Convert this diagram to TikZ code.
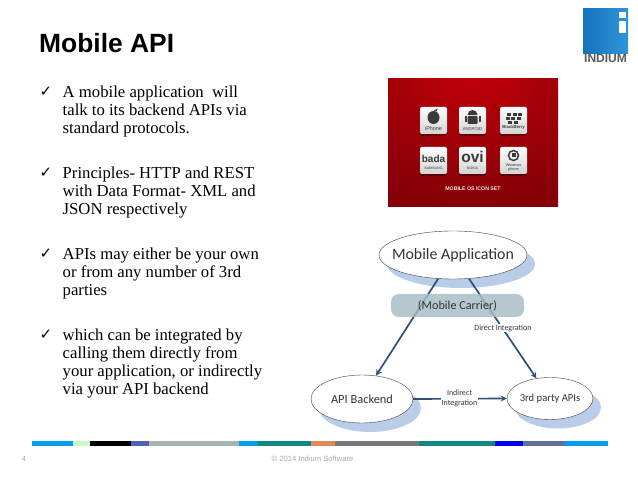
\documentclass[tikz,border=0pt]{standalone}
\usepackage{fontspec}
\setmainfont{Liberation Serif}
\newfontfamily\arialfont{Liberation Sans}
\newfontfamily\calibrifont{Carlito}
\newfontfamily\checkfont{DejaVu Sans}
\usetikzlibrary{shapes.geometric,shadows}

\definecolor{arrowblue}{HTML}{2F4F77}
\definecolor{shadowblue}{HTML}{BACDE8}
\definecolor{carriergrey}{HTML}{A6BCC4}
\definecolor{labelgrey}{HTML}{333333}
\definecolor{footgrey}{HTML}{A8A8A8}
\definecolor{tilegrey}{HTML}{3A3A3A}
\definecolor{logodark}{HTML}{1672BC}
\definecolor{logolight}{HTML}{2E96DC}
\pgfdeclareradialshading{redglow}{\pgfpoint{0bp}{34bp}}{
  rgb(0bp)=(0.80,0.00,0.03);
  rgb(16bp)=(0.68,0.00,0.03);
  rgb(40bp)=(0.54,0.00,0.03);
  rgb(100bp)=(0.38,0.00,0.02)}

\tikzset{
  bullet/.style={anchor=north west,align=left,inner sep=0pt,font=\fontsize{16.7}{18.2}\selectfont},
  tick/.style={inner sep=0pt,font=\checkfont\fontsize{15}{15}\selectfont},
  cloud/.style={ellipse,draw=black!75,thin,fill=white,inner sep=0pt,text=labelgrey,
    general shadow={shadow xshift=8pt,shadow yshift=-9pt,fill=shadowblue}},
  link/.style={->,>=stealth,line width=1.7pt,draw=arrowblue},
  linktext/.style={fill=white,inner sep=1pt,text=labelgrey,align=center,
    font=\calibrifont\fontsize{8}{9.4}\selectfont},
  tile/.style={rounded corners=2pt,minimum size=27pt,inner sep=0pt,top color=white,bottom color=black!17,
    general shadow={shadow xshift=0pt,shadow yshift=-2pt,fill=black,opacity=.35}},
  tiletext/.style={inner sep=0pt,text=tilegrey,font=\arialfont\fontsize{3.6}{4}\selectfont},
  foot/.style={inner sep=0pt,text=footgrey,font=\arialfont\fontsize{7.6}{8}\selectfont}
}

\begin{document}
\begin{tikzpicture}[x=1pt,y=-1pt]
\useasboundingbox (0,0) rectangle (638,478);

%heading
\node [anchor=base west,inner sep=0pt,font=\arialfont\bfseries\fontsize{26.4}{30}\selectfont] (title) at (39,52.5) {Mobile API};

%logo
\node [anchor=north west,minimum width=45pt,minimum height=45pt,inner sep=0pt,left color=logodark,right color=logolight] (logo) at (583,8) {};
\fill [white] (618.5,12) rectangle (625.5,18);
\fill [white] (618.5,21) rectangle (625.5,33);
\node [inner sep=0pt,text=black!65,font=\arialfont\bfseries\fontsize{12}{12}\selectfont] (logotext) at (605.5,58.5) {INDIUM};

%bullets
\node [tick] (tickA) at (46,92) {✓};
\node [tick] (tickB) at (46,173) {✓};
\node [tick] (tickC) at (46,254) {✓};
\node [tick] (tickD) at (46,335) {✓};
\node [bullet] (textA) at (62.5,85.5) {A mobile application\ \ will\\talk to its backend APIs via\\standard protocols.};
\node [bullet] (textB) at (62.5,166.5) {Principles- HTTP and REST\\with Data Format- XML and\\JSON respectively};
\node [bullet] (textC) at (62.5,247.5) {APIs may either be your own\\or from any number of 3rd\\parties};
\node [bullet] (textD) at (62.5,328.5) {which can be integrated by\\calling them directly from\\your application, or indirectly\\via your API backend};

%red picture
\shade [shading=redglow] (388,79) rectangle (558,207);
\foreach \tilename/\tilex/\tiley in {iphone/433.5/120.5,android/472.5/120.5,berry/513.5/120.5,bada/433.5/160.5,ovi/472.5/160.5,winphone/513.5/160.5}
  \node [tile] (\tilename) at (\tilex,\tiley) {};

%iphone
\fill [tilegrey] (433.5,117.5) ellipse (6pt and 6.5pt);
\fill [tilegrey] (434,110.5) -- (437.5,108.5) -- (436.5,111.5) -- cycle;
\node [tiletext,font=\arialfont\fontsize{5.4}{6}\selectfont] (iphonetext) at (433.5,129) {iPhone};
%android
\fill [tilegrey,rounded corners=1pt] (467.5,116) rectangle (477.5,124);
\fill [tilegrey] (467.5,115) arc (180:360:5pt and -5pt) -- cycle;
\fill [tilegrey] (464.5,116) rectangle (466.5,122);
\fill [tilegrey] (478.5,116) rectangle (480.5,122);
\node [tiletext,font=\arialfont\fontsize{4.2}{5}\selectfont] (androidtext) at (472.5,129) {ANDROID};
%blackberry
\foreach \dotx/\doty in {507/113,512.5/113,518/113,505.5/117,511/117,516.5/117,508/121,513.5/121}
  \fill [tilegrey] (\dotx,\doty) rectangle +(4,2.6);
\node [tiletext,font=\arialfont\bfseries\fontsize{4.2}{5}\selectfont] (berrytext) at (513.5,127.5) {BlackBerry};
%bada
\node [inner sep=0pt,text=tilegrey,font=\arialfont\bfseries\fontsize{10}{10}\selectfont] (badatext) at (433.5,158.5) {bada};
\node [tiletext] (badasub) at (433.5,168) {SAMSUNG};
%ovi
\node [inner sep=0pt,text=tilegrey,font=\arialfont\bfseries\fontsize{15.5}{16}\selectfont] (ovitext) at (472.5,157) {ovi};
\node [tiletext] (ovisub) at (472.5,168.5) {NOKIA};
%windows
\draw [tilegrey,line width=1.5pt] (513.5,155.5) circle (5pt);
\fill [tilegrey] (511.5,153.5) rectangle (515.5,157.5);
\node [tiletext,align=center,font=\arialfont\fontsize{3.8}{4.4}\selectfont] (wintext) at (513.5,167.5) {Windows\\phone};
\node [inner sep=0pt,text=white!90!red,font=\arialfont\bfseries\fontsize{5.2}{6}\selectfont] (settext) at (473,189) {MOBILE OS ICON SET};

%ellipses
\node [cloud,inner xsep=-10pt,minimum width=148pt,minimum height=48pt,font=\calibrifont\fontsize{15.9}{17}\selectfont] (mobileapp) at (453,255) {Mobile Application};
\node [cloud,minimum width=102pt,minimum height=48pt,font=\calibrifont\fontsize{12.4}{14}\selectfont] (apibackend) at (362,399) {API Backend};
\node [cloud,minimum width=86pt,minimum height=42pt,font=\calibrifont\fontsize{10.6}{13}\selectfont] (thirdparty) at (550,398.5) {3rd party APIs};

%connectors
\draw [link] (mobileapp.238) -- (apibackend.59);
\draw [link] (mobileapp.304) -- (thirdparty.124);
\draw [link] (apibackend.east) -- (thirdparty.west);

%carrier band and labels
\node [rounded corners=8pt,minimum width=133pt,minimum height=23pt,inner sep=0pt,fill=carriergrey,fill opacity=0.82,text opacity=1,text=labelgrey,font=\calibrifont\fontsize{12.2}{14}\selectfont] (carrier) at (457.5,305.5) {(Mobile Carrier)};
\node [linktext] (direct) at (503,328) {Direct Integration};
\node [linktext] (indirect) at (459.5,398.5) {Indirect\\Integration};

%colour bar
\foreach \barfrom/\barto/\barcol in {32/73/00A0F0,73/89.5/C8F8C8,89.5/130.6/000000,130.6/149.4/5060B8,149.4/239/A8B4B0,239/258/00A0F0,258/310.6/108888,310.6/334.7/E08858,334.7/419/787878,419/494.7/108888,494.7/523/0000F0,523/564.5/607098,564.5/608/00A0F0}{
  \definecolor{barfill}{HTML}{\barcol}
  \fill [barfill] (\barfrom,441) rectangle (\barto,446.5);
}

%footer
\node [foot] (pagenum) at (24,459) {4};
\node [foot] (copyright) at (312.5,458.7) {© 2014 Indium Software};

\end{tikzpicture}
\end{document}
